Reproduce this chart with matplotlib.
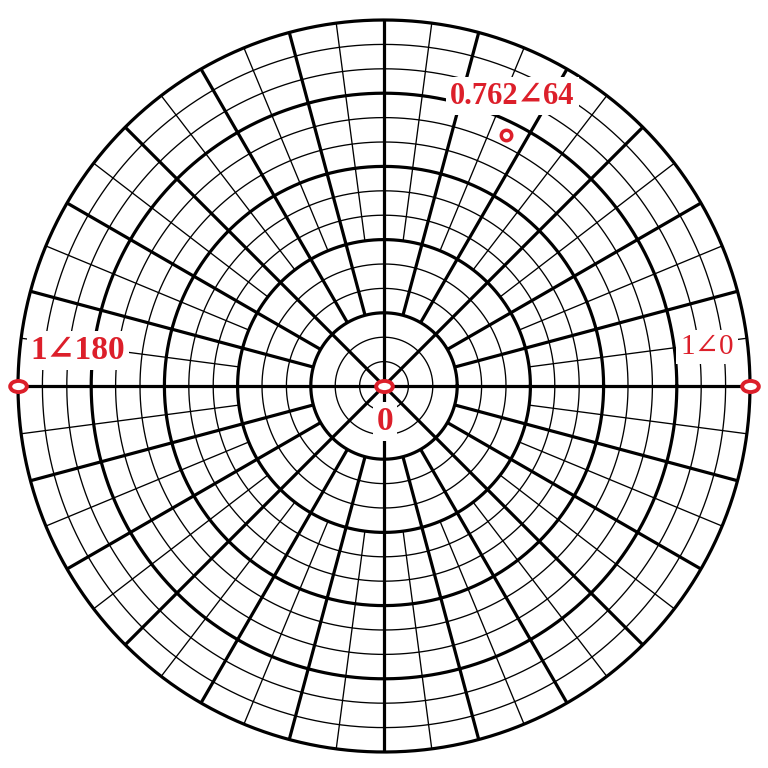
import numpy as np
import matplotlib
matplotlib.use("Agg")
import matplotlib.pyplot as plt
from matplotlib.path import Path
from matplotlib.transforms import Affine2D

# grid description (radius 1 = unit circle)
thick_r = [0.2, 0.4, 0.6, 0.8, 1.0]
thin_r = [k / 15 for k in range(1, 15) if k % 3 != 0]
center_spokes = np.arange(0, 360, 45)        # from 0 to 0.2
main_spokes = np.arange(0, 360, 15)          # from 0.2 to 1.0, thick
minor_spokes = np.arange(7.5, 360, 15)       # from 0.4 to 1.0, thin

# marked points: (magnitude, angle in degrees)
pt_mag = [1.0, 1.0, 0.0, 0.762]
pt_ang = [0, 180, 0, 64]

labels = ["1\u2220180", "1\u22200", "0.762\u222064", "0"]
label_x = [-0.836, 0.883, 0.350, 0.003]
label_y = [0.096, 0.107, 0.792, -0.098]

red = "#dc1f2a"
thick_w = 2.3
thin_w = 0.95

fig = plt.figure(figsize=(7.68, 7.68), dpi=100)
ax = fig.add_axes([0, 0, 1, 1])
ax.set_xlim(-384 / 366, 384 / 366)
ax.set_ylim(-(768 - 386) / 366, 386 / 366)
ax.set_aspect("equal")
ax.axis("off")

t = np.linspace(0, 2 * np.pi, 720)
for r in thin_r:
    ax.plot(r * np.cos(t), r * np.sin(t), color="black", lw=thin_w, zorder=1)
for r in thick_r:
    ax.plot(r * np.cos(t), r * np.sin(t), color="black", lw=thick_w, zorder=2)

for a in np.radians(minor_spokes):
    ax.plot([0.4 * np.cos(a), np.cos(a)], [0.4 * np.sin(a), np.sin(a)],
            color="black", lw=thin_w, zorder=1)
for a in np.radians(main_spokes):
    ax.plot([0.2 * np.cos(a), np.cos(a)], [0.2 * np.sin(a), np.sin(a)],
            color="black", lw=thick_w, zorder=2, solid_capstyle="butt")
for a in np.radians(center_spokes):
    ax.plot([0, 0.2 * np.cos(a)], [0, 0.2 * np.sin(a)],
            color="black", lw=thick_w, zorder=2, solid_capstyle="butt")

# labels with white boxes over the grid
fam = ["Liberation Serif", "DejaVu Serif", "DejaVu Sans"]
sizes = [24, 21, 22, 24]
weights = ["bold", "normal", "bold", "bold"]
for s, x, y, fs, w in zip(labels, label_x, label_y, sizes, weights):
    ax.text(x, y, s, color=red, fontsize=fs, fontweight=w, family=fam,
            ha="center", va="center", zorder=5,
            bbox=dict(facecolor="white", edgecolor="none", pad=3))

# red ring markers
ell = Path.unit_circle().transformed(Affine2D().scale(1.5, 1.0))
px = [m * np.cos(np.radians(a)) for m, a in zip(pt_mag, pt_ang)]
py = [m * np.sin(np.radians(a)) for m, a in zip(pt_mag, pt_ang)]
ax.plot(px[:3], py[:3], linestyle="none", marker=ell, markersize=12,
        markerfacecolor="white", markeredgecolor=red, markeredgewidth=2.8,
        zorder=6, clip_on=False)
ax.plot(px[3:], py[3:], linestyle="none", marker="o", markersize=7.5,
        markerfacecolor="white", markeredgecolor=red, markeredgewidth=2.5,
        zorder=6)

fig.savefig("out.png", dpi=100, facecolor="white")
